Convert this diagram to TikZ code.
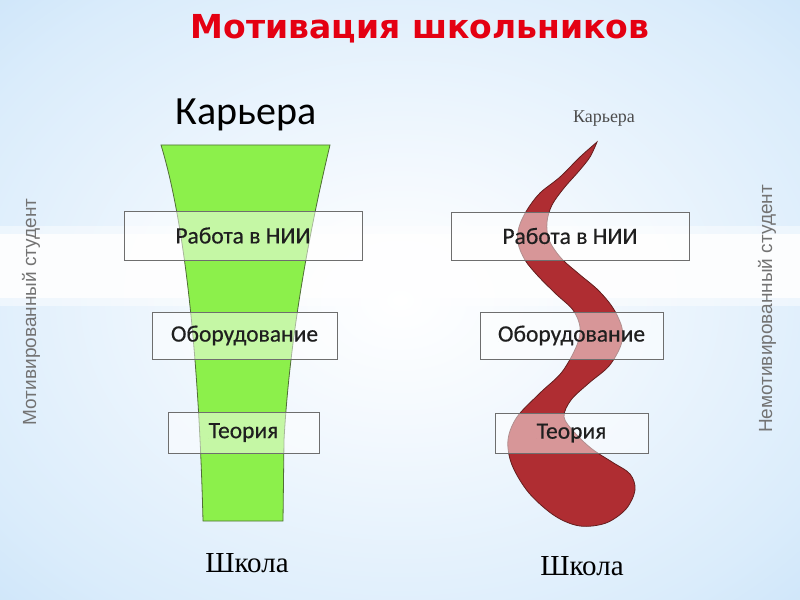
\documentclass[tikz,border=0pt]{standalone}
\usepackage{fontspec}
\setmainfont{Liberation Sans}
\newfontfamily\titlefont{DejaVu Sans}
\newfontfamily\calib{Carlito}
\newfontfamily\calibmed{Carlito}[BoldFont=Carlito, BoldFeatures={FakeBold=0.5}]
\newfontfamily\serifw{Liberation Serif}
\definecolor{bgblue}{RGB}{150,200,240}
\definecolor{bgmid}{RGB}{182,216,245}
\definecolor{bglight}{RGB}{218,236,251}
\definecolor{bgpale}{RGB}{244,249,254}
\definecolor{titlered}{RGB}{228,0,18}
\definecolor{limegreen}{RGB}{140,240,75}
\definecolor{limeedge}{RGB}{80,110,55}
\definecolor{wine}{RGB}{175,45,50}
\definecolor{wineedge}{RGB}{100,30,30}
\definecolor{sidegray}{RGB}{115,115,115}
\definecolor{boxedge}{RGB}{110,110,110}
\pgfdeclareradialshading{bgshade}{\pgfpoint{0bp}{0bp}}{color(0bp)=(white); color(10bp)=(bgpale); color(30bp)=(bglight); color(50bp)=(bgmid); color(71bp)=(bgblue)}
\tikzset{
  levelbox/.style={draw=boxedge, line width=0.8bp, fill=white, fill opacity=0.5, text opacity=1,
    font=\calibmed\bfseries\fontsize{23.5bp}{25bp}\selectfont, text=black!88, inner sep=0pt},
  sidetext/.style={rotate=90, font=\fontsize{19bp}{21bp}\selectfont, text=sidegray, inner sep=0pt},
  schooltext/.style={anchor=base, font=\serifw\fontsize{29bp}{31bp}\selectfont, text=black, inner sep=0pt},
}
\begin{document}
\begin{tikzpicture}[x=1bp,y=-1bp]
\useasboundingbox (0,0) rectangle (800,600);
% background
\shade[shading=bgshade] (0,0) rectangle (800,600);
\fill[white, opacity=0.85] (0,234) rectangle (800,298);
\fill[white, opacity=0.45] (0,226) rectangle (800,306);
% title
\node[anchor=base, font=\titlefont\bfseries\fontsize{33bp}{35bp}\selectfont, text=titlered, inner sep=0pt] (title) at (420,39) {Мотивация школьников};
% career labels
\node[anchor=base, font=\calib\fontsize{40bp}{42bp}\selectfont, inner sep=0pt] (careerL) at (246,125) {Карьера};
\node[anchor=base, font=\serifw\fontsize{18bp}{20bp}\selectfont, text=black!70, inner sep=0pt] (careerR) at (604,123) {Карьера};
% green funnel
\draw[fill=limegreen, draw=limeedge, line width=0.8bp]
  (161,145) -- (330,145) .. controls (312,220) and (290,330) .. (284,440)
  -- (283,521) -- (203,521) .. controls (200,400) and (190,240) .. (161,145) -- cycle;
% red wavy path
\draw[fill=wine, draw=wineedge, line width=0.8bp]
  plot[smooth, tension=0.55] coordinates {
   (597,142) (580,157) (560,177) (540,193) (527,210) (519,227) (518,243) (525,260)
   (538,276) (556,294) (573,310) (580,327) (577,345) (562,372) (540,393) (517,417)
   (508,440) (512,465) (529,493) (555,516) (580,526) (606,523) (626,509) (635,490)
   (630,474) (612,462) (592,449) (575,433) (564,417) (571,400) (589,383) (609,366)
   (621,345) (622,328) (613,308) (598,290) (579,274) (561,258) (549,240) (547,222)
   (552,205) (564,188) (579,171) (590,157) (597,142)} -- cycle;
% level boxes
\node[levelbox, minimum width=238bp, minimum height=49bp] (l1) at (243,235.5) {Работа в НИИ};
\node[levelbox, minimum width=185bp, minimum height=47bp] (l2) at (244.5,335.5) {Оборудование};
\node[levelbox, minimum width=151bp, minimum height=41bp] (l3) at (243.5,432.5) {Теория};
\node[levelbox, minimum width=238bp, minimum height=48bp] (r1) at (570,236) {Работа в НИИ};
\node[levelbox, minimum width=183bp, minimum height=47bp] (r2) at (571.5,335.5) {Оборудование};
\node[levelbox, minimum width=153bp, minimum height=40bp] (r3) at (571.5,433) {Теория};
% school labels
\node[schooltext] (schoolL) at (247,572) {Школа};
\node[schooltext] (schoolR) at (582,575) {Школа};
% side labels
\node[sidetext] (motiv) at (31,312) {Мотивированный студент};
\node[sidetext] (unmotiv) at (767,309) {Немотивированный студент};
\end{tikzpicture}
\end{document}
